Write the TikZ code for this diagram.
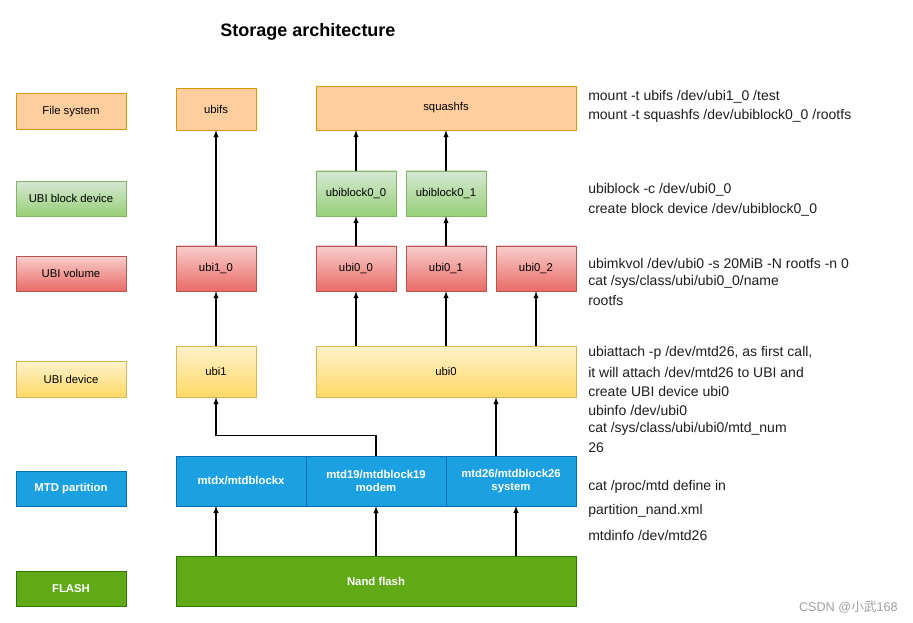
\documentclass[tikz,border=0pt]{standalone}
\usepackage{fontspec}
\setmainfont{Liberation Sans}
\newfontfamily\cjkf{Noto Sans CJK SC}
\begin{document}
\begin{tikzpicture}[x=0.75pt,y=-0.75pt,
 box/.style={draw,minimum width=#1*0.75pt,inner sep=0pt,font=\fontsize{8.5}{10}\selectfont,align=center},
 fs/.style={fill={rgb,255:red,255;green,206;blue,159},draw={rgb,255:red,215;green,155;blue,0}},
 gb/.style={top color={rgb,255:red,213;green,232;blue,212},bottom color={rgb,255:red,151;green,208;blue,119},draw={rgb,255:red,130;green,179;blue,102}},
 rv/.style={top color={rgb,255:red,248;green,206;blue,204},bottom color={rgb,255:red,234;green,107;blue,102},draw={rgb,255:red,184;green,84;blue,80}},
 yd/.style={top color={rgb,255:red,255;green,242;blue,204},bottom color={rgb,255:red,255;green,217;blue,102},draw={rgb,255:red,214;green,182;blue,86}},
 bm/.style={fill={rgb,255:red,27;green,161;blue,226},draw={rgb,255:red,0;green,110;blue,175},text=white,font=\fontsize{8.5}{10}\selectfont\bfseries},
 gf/.style={fill={rgb,255:red,96;green,169;blue,23},draw={rgb,255:red,45;green,118;blue,0},text=white,font=\fontsize{8.5}{10}\selectfont\bfseries},
 arr/.style={-latex,thick,line width=0.8pt},
 rt/.style={anchor=west,inner sep=0pt,font=\fontsize{10.5}{12}\selectfont,text={rgb,255:red,30;green,30;blue,30}}]
\useasboundingbox (0,0) rectangle (913,623);
\fill[white] (0,0) rectangle (913,623);
\node[font=\fontsize{13.5}{16}\selectfont\bfseries] (title) at (308,32) {Storage architecture};
% left labels
\node[box=110,fs,minimum height=27pt] (l1) at (71,111.5) {File system};
\node[box=110,gb,minimum height=26pt] (l2) at (71,198.5) {UBI block device};
\node[box=110,rv,minimum height=26pt] (l3) at (71,273.5) {UBI volume};
\node[box=110,yd,minimum height=27pt] (l4) at (71,379) {UBI device};
\node[box=110,bm,minimum height=26pt] (l5) at (71,488.5) {MTD partition};
\node[box=110,gf,minimum height=26pt] (l6) at (71,588.5) {FLASH};
% boxes
\node[box=80,fs,minimum height=31.5pt] (ubifs) at (216,109) {ubifs};
\node[box=260,fs,minimum height=33pt] (sq) at (446,108) {squashfs};
\node[box=80,gb,minimum height=33.75pt] (b0) at (356,193.5) {ubiblock0\_0};
\node[box=80,gb,minimum height=33.75pt] (b1) at (446,193.5) {ubiblock0\_1};
\node[box=80,rv,minimum height=33.75pt] (v10) at (216,268.5) {ubi1\_0};
\node[box=80,rv,minimum height=33.75pt] (v00) at (356,268.5) {ubi0\_0};
\node[box=80,rv,minimum height=33.75pt] (v01) at (446,268.5) {ubi0\_1};
\node[box=80,rv,minimum height=33.75pt] (v02) at (536,268.5) {ubi0\_2};
\node[box=80,yd,minimum height=38.25pt] (u1) at (216,371.5) {ubi1};
\node[box=260,yd,minimum height=38.25pt] (u0) at (446,371.5) {ubi0};
\node[box=130,bm,minimum height=37.5pt] (m1) at (241,481) {mtdx/mtdblockx};
\node[box=140,bm,minimum height=37.5pt] (m2) at (376,481) {mtd19/mtdblock19\\modem};
\node[box=130,bm,minimum height=37.5pt] (m3) at (511,481) {mtd26/mtdblock26\\system};
\node[box=400,gf,minimum height=37.5pt] (nf) at (376,581) {Nand flash};
% arrows
\draw[arr] (v10) -- (ubifs);
\draw[arr] (b0) -- (b0|-sq.south);
\draw[arr] (b1) -- (b1|-sq.south);
\draw[arr] (v00) -- (b0);
\draw[arr] (v01) -- (b1);
\draw[arr] (u1) -- (v10);
\draw[arr] (v00|-u0.north) -- (v00);
\draw[arr] (v01|-u0.north) -- (v01);
\draw[arr] (v02|-u0.north) -- (v02);
\draw[arr] (m2.north) -- ++(0,-20) -| (u1.south);
\coordinate (c26) at (496,456);
\draw[arr] (c26|-m3.north) -- (c26|-u0.south);
\draw[arr] (216,556) -- (216,506) ;
\draw[arr] (m2|-nf.north) -- (m2.south);
\draw[arr] (516,556) -- (516,506);
% right text
\node[rt] (t1) at (588,97) {mount -t ubifs /dev/ubi1\_0 /test};
\node[rt] (t2) at (588,116) {mount -t squashfs /dev/ubiblock0\_0 /rootfs};
\node[rt] (t3) at (588,190) {ubiblock -c /dev/ubi0\_0};
\node[rt] (t4) at (588,210) {create block device /dev/ubiblock0\_0};
\node[rt] (t5) at (588,263) {ubimkvol /dev/ubi0 -s 20MiB -N rootfs -n 0};
\node[rt] (t6) at (588,282) {cat /sys/class/ubi/ubi0\_0/name};
\node[rt] (t7) at (588,301) {rootfs};
\node[rt] (t8) at (588,353) {ubiattach -p /dev/mtd26, as first call,};
\node[rt] (t9) at (588,372) {it will attach /dev/mtd26 to UBI and};
\node[rt] (t10) at (588,391) {create UBI device ubi0};
\node[rt] (t11) at (588,410) {ubinfo /dev/ubi0};
\node[rt] (t12) at (588,429) {cat /sys/class/ubi/ubi0/mtd\_num};
\node[rt] (t13) at (588,448) {26};
\node[rt] (t14) at (588,487) {cat /proc/mtd define in};
\node[rt] (t15) at (588,511) {partition\_nand.xml};
\node[rt] (t16) at (588,535) {mtdinfo /dev/mtd26};
\node[anchor=east,inner sep=0pt,font=\fontsize{9.5}{11}\selectfont,text={rgb,255:red,160;green,160;blue,160}] (wm) at (898,607) {CSDN @{\cjkf 小武}168};
\end{tikzpicture}
\end{document}
